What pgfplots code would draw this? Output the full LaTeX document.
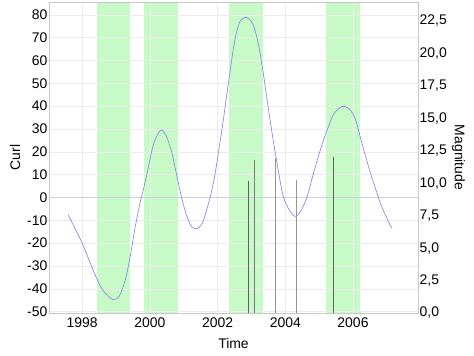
\documentclass[border=0pt]{standalone}
\usepackage{fontspec}
\setmainfont{Liberation Sans}
\usepackage{pgfplots}
\pgfplotsset{compat=1.18}
\usetikzlibrary{calc}
\definecolor{band}{RGB}{200,250,200}
\definecolor{curlc}{RGB}{125,125,232}
\definecolor{gridc}{RGB}{236,236,236}
\definecolor{axc}{RGB}{200,200,200}
\definecolor{zeroc}{RGB}{205,205,230}
\begin{document}
\begin{tikzpicture}[font=\fontsize{14}{16}\selectfont]
\pgfplotsset{set layers}
\begin{axis}[
  scale only axis, width=369bp, height=311bp,
  xmin=1997.02, xmax=2007.92, ymin=-50.6, ymax=85.6,
  xtick={1998,2000,...,2006}, ytick={-50,-40,...,80},
  /pgf/number format/assume math mode=true,
  xticklabel style={/pgf/number format/1000 sep={}},
  grid=major, grid style={gridc, line width=0.5pt},
  axis line style={axc}, major tick length=0pt,
  xlabel={Time}, ylabel={Curl},
  extra y ticks={0}, extra y tick labels={},
  extra y tick style={grid style={zeroc, line width=0.6pt}},
  yticklabel style={inner sep=1.5pt},
  xticklabel style={inner sep=1.5pt, yshift=-3pt},
  ylabel style={yshift=2pt},
  xlabel style={yshift=-6pt},
]
\addplot[fill=band, draw=none, on layer=axis background] coordinates {(1998.43,-50.6) (1998.43,85.6) (1999.42,85.6) (1999.42,-50.6)} -- cycle;
\addplot[fill=band, draw=none, on layer=axis background] coordinates {(1999.82,-50.6) (1999.82,85.6) (2000.84,85.6) (2000.84,-50.6)} -- cycle;
\addplot[fill=band, draw=none, on layer=axis background] coordinates {(2002.33,-50.6) (2002.33,85.6) (2003.35,85.6) (2003.35,-50.6)} -- cycle;
\addplot[fill=band, draw=none, on layer=axis background] coordinates {(2005.20,-50.6) (2005.20,85.6) (2006.20,85.6) (2006.20,-50.6)} -- cycle;
\addplot[curlc, line width=0.6pt, smooth] coordinates {
(1997.59,-7.6) (1997.78,-13.4) (1997.98,-19.3) (1998.18,-26.6) (1998.38,-33.8)
(1998.57,-39.7) (1998.77,-43.3) (1998.92,-44.8) (1999.09,-43.3) (1999.26,-36.8)
(1999.41,-26.6) (1999.56,-13.4) (1999.70,-3) (1999.80,3) (1999.95,12.8)
(2000.10,23.1) (2000.25,28.1) (2000.35,29.6) (2000.49,26.7) (2000.64,20.1)
(2000.79,9.9) (2000.94,-0.3) (2001.08,-7.6) (2001.23,-12.7) (2001.40,-13.7)
(2001.57,-10.5) (2001.72,-3.2) (2001.82,2.5) (2001.92,9.9) (2002.07,24)
(2002.17,34) (2002.36,54.4) (2002.51,69) (2002.66,77) (2002.86,78.8)
(2003.05,75.6) (2003.20,67.5) (2003.35,54.4) (2003.49,39.8) (2003.64,25.3)
(2003.79,12.1) (2003.94,0.4) (2004.14,-6.1) (2004.31,-8.3) (2004.47,-5.5)
(2004.63,-0.3) (2004.82,9.9) (2005.02,20.1) (2005.22,28.9) (2005.42,36.2)
(2005.66,39.8) (2005.86,39.1) (2006.06,34.7) (2006.25,24.5) (2006.50,11.4)
(2006.65,4.6) (2006.79,-1.8) (2006.96,-7.8) (2007.14,-13.4)
};
\end{axis}
\begin{axis}[
  scale only axis, width=369bp, height=311bp,
  xmin=1997.02, xmax=2007.92, ymin=0, ymax=23.95,
  axis x line=none, axis y line*=right,
  axis line style={axc}, major tick length=0pt,
  ytick={0,2.5,...,22.5},
  /pgf/number format/assume math mode=true,
  yticklabel style={/pgf/number format/fixed, /pgf/number format/fixed zerofill, /pgf/number format/precision=1, /pgf/number format/use comma, inner sep=1.5pt},
  ylabel={Magnitude},
  ylabel style={rotate=180},
]
\addplot[ycomb, color=black!62, line width=0.9pt] coordinates {(2002.90,10.16)};
\addplot[ycomb, color=black!52, line width=0.9pt] coordinates {(2003.10,11.78)};
\addplot[ycomb, color=black!42, line width=1.0pt] coordinates {(2003.72,11.96)};
\addplot[ycomb, color=black!42, line width=0.9pt] coordinates {(2004.33,10.24)};
\addplot[ycomb, color=black!62, line width=0.9pt] coordinates {(2005.42,12.03)};
\end{axis}
\pgfresetboundingbox
\path[use as bounding box] ($(current axis.south west)+(-49bp,-43bp)$) rectangle ($(current axis.north east)+(56bp,2bp)$);
\end{tikzpicture}
\end{document}
